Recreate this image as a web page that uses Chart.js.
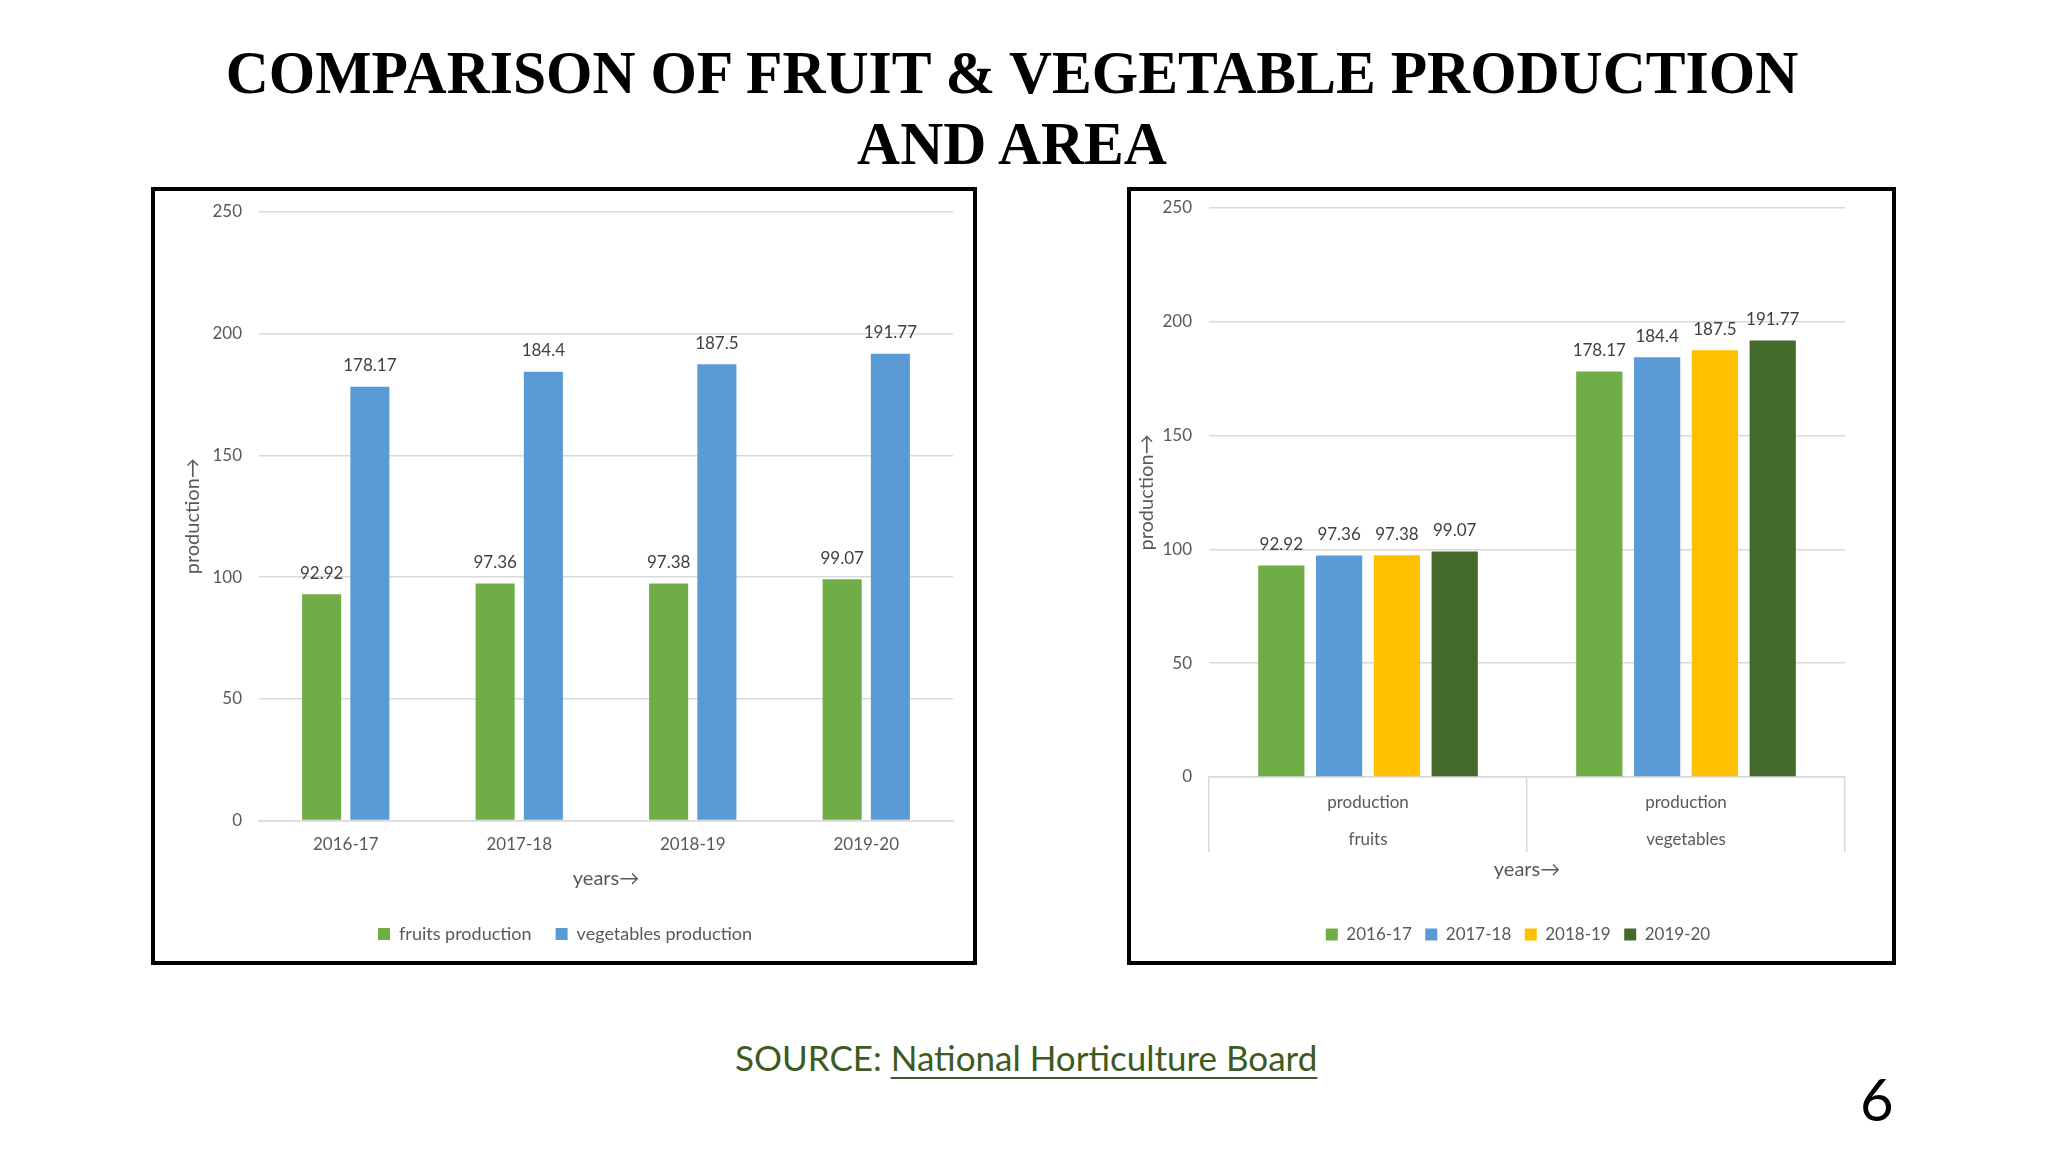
<!DOCTYPE html>
<html>
<head>
<meta charset="utf-8">
<script src="https://cdn.jsdelivr.net/npm/chart.js@4.4.0/dist/chart.umd.min.js"></script>
<style>
  body { margin: 0; width: 2048px; height: 1152px; background: #fff; position: relative; overflow: hidden; font-family: Lato, sans-serif; }
  #title { position: absolute; left: 0; width: 2024px; top: 37px; text-align: center; font-family: "Liberation Serif", serif; font-weight: bold; font-size: 62px; line-height: 71px; color: #000; transform: scaleX(0.962); }
  .box { position: absolute; top: 187px; height: 770px; border: 4px solid #000; background: #fff; }
  #leftBox { left: 151px; width: 818px; }
  #rightBox { left: 1127px; width: 761px; }
  #source { position: absolute; left: 735px; top: 1040px; font-size: 35px; line-height: 1; color: #3d5a1f; white-space: nowrap; }
  #source u { text-decoration-thickness: 2px; text-underline-offset: 6px; }
  #page { position: absolute; left: 1860px; top: 1070px; font-size: 58px; line-height: 1; color: #000; }
</style>
</head>
<body>
<div id="title">COMPARISON OF FRUIT &amp; VEGETABLE PRODUCTION<br>AND AREA</div>
<div class="box" id="leftBox"><canvas id="byYear" width="818" height="770"></canvas></div>
<div class="box" id="rightBox"><canvas id="byCrop" width="761" height="770"></canvas></div>
<div id="source">SOURCE: <u>National Horticulture Board</u></div>
<div id="page">6</div>
<script>
// data
var years = ["2016-17", "2017-18", "2018-19", "2019-20"];
var fruits = [92.92, 97.36, 97.38, 99.07];
var vegetables = [178.17, 184.4, 187.5, 191.77];
var crops = [["production", "fruits"], ["production", "vegetables"]];
var yearColors = ["#70ad47", "#5b9bd5", "#ffc000", "#436a2b"];

var gridGrey = "#d9d9d9";
var textGrey = "#595959";

// values written above each bar
var valueLabels = {
  id: "valueLabels",
  afterDatasetsDraw: function(chart) {
    var ctx = chart.ctx;
    ctx.save();
    ctx.font = "17px Lato";
    ctx.fillStyle = "#404040";
    ctx.textAlign = "center";
    ctx.textBaseline = "middle";
    chart.data.datasets.forEach(function(ds, i) {
      chart.getDatasetMeta(i).data.forEach(function(bar, j) {
        ctx.fillText(String(ds.data[j]), bar.x, bar.y - 21);
      });
    });
    ctx.restore();
  }
};

// spread the legend over the whole canvas width, not just the padded area
var wideLegend = {
  id: "wideLegend",
  afterLayout: function(chart) {
    chart.legend.left = 13;
    chart.legend.right = chart.width;
  }
};

var yAxis = function(width) {
  return {
    min: 0,
    max: 250,
    ticks: { stepSize: 50, color: textGrey, font: { size: 17, family: "Lato" }, padding: 17 },
    grid: { color: gridGrey, lineWidth: 1.5, drawTicks: false },
    border: { display: false },
    title: { display: true, text: "production\u2192", color: textGrey, font: { size: 20, family: "Lato" } },
    afterFit: function(scale) {
      scale.width = width;
      scale.paddingTop = 0;
      scale.paddingBottom = 0;
    }
  };
};

var legendOpts = function(pad, size) {
  return {
    position: "bottom",
    labels: { boxWidth: 12, boxHeight: 12, padding: pad, color: textGrey, font: { size: size, family: "Lato" } }
  };
};

// left chart: years on the x axis
var byYear = new Chart(document.getElementById("byYear"), {
  type: "bar",
  data: {
    labels: years,
    datasets: [
      { label: "fruits production", data: fruits, backgroundColor: yearColors[0] },
      { label: "vegetables production", data: vegetables, backgroundColor: yearColors[1] }
    ]
  },
  options: {
    responsive: false,
    animation: false,
    categoryPercentage: 0.556,
    barPercentage: 0.81,
    layout: { padding: { left: 22, top: 21, right: 20, bottom: 8 } },
    plugins: { legend: legendOpts(24, 18), tooltip: { enabled: false } },
    scales: {
      x: {
        grid: { display: false, drawTicks: false },
        border: { color: gridGrey, width: 1.5 },
        ticks: { color: textGrey, font: { size: 17, family: "Lato" }, padding: 14 },
        title: { display: true, text: "years\u2192", color: textGrey, font: { size: 20, family: "Lato" }, padding: { top: 0, bottom: 10.5 } },
        afterFit: function(scale) { scale.height = 80.5; }
      },
      y: yAxis(82)
    }
  },
  plugins: [valueLabels]
});

// right chart: crops on the x axis, one series per year
var byCrop = new Chart(document.getElementById("byCrop"), {
  type: "bar",
  data: {
    labels: crops,
    datasets: years.map(function(y, i) {
      return { label: y, data: [fruits[i], vegetables[i]], backgroundColor: yearColors[i] };
    })
  },
  options: {
    responsive: false,
    animation: false,
    categoryPercentage: 0.727,
    barPercentage: 0.8,
    layout: { padding: { left: 0, top: 17, right: 47, bottom: 8 } },
    plugins: { legend: legendOpts(13.5, 17), tooltip: { enabled: false } },
    scales: {
      x: {
        grid: { offset: true, drawOnChartArea: false, drawTicks: true, tickLength: 75, color: gridGrey, lineWidth: 1.5 },
        border: { color: gridGrey, width: 1.5 },
        ticks: { color: textGrey, font: { size: 17, family: "Lato", lineHeight: 2.18 }, padding: -68.5 },
        title: { display: true, text: "years\u2192", color: textGrey, font: { size: 20, family: "Lato" }, padding: { top: 0, bottom: 31 } },
        afterFit: function(scale) { scale.height = 135.5; }
      },
      y: yAxis(78)
    }
  },
  plugins: [valueLabels, wideLegend]
});
</script>
</body>
</html>
